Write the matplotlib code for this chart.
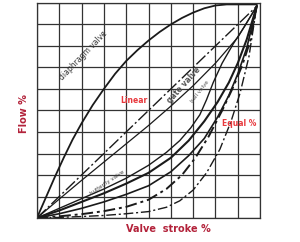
import matplotlib.pyplot as plt

# stroke % vs flow %
diaphragm_x = [0, 4, 8, 12, 16, 20, 25, 30, 35, 40, 45, 50, 55, 60, 65, 70, 75, 80, 85, 98.5]
diaphragm_y = [0, 9.5, 19, 28, 36.5, 44, 52.5, 60, 67, 73, 78, 82.5, 86.5, 90, 93, 95.5, 97.5, 98.8, 99.3, 99.3]
linear_x = [0, 98.5]
linear_y = [0, 98.5]
gate_x = [0, 10, 20, 30, 40, 50, 60, 70, 80, 90, 98.5]
gate_y = [0, 8.8, 17.5, 26, 34.5, 43, 52, 61.5, 72, 84, 98.5]
ball_x = [0, 10, 20, 30, 40, 50, 58, 64, 69, 73, 76, 79, 83, 88, 93, 98.5]
ball_y = [0, 4.5, 9, 13.5, 18.5, 24.5, 30.5, 36, 42, 48, 55, 63, 72, 81, 89, 98.5]
butterfly_x = [0, 10, 20, 30, 40, 50, 60, 68, 75, 81, 86, 90, 94, 98.5]
butterfly_y = [0, 3.5, 7.5, 11.5, 16, 21, 28, 36, 45, 54, 63, 72, 83, 98.5]
third_x = [0, 10, 20, 30, 40, 50, 60, 68, 75, 81, 86, 90, 94, 98.5]
third_y = [0, 2, 4.5, 7.5, 11, 15, 21.5, 29, 37, 47, 57, 67, 79, 98.5]
equal_x = [0, 10, 20, 30, 40, 50, 58, 65, 71, 77, 83, 88, 92, 95.5, 98.5]
equal_y = [0, 0.8, 1.8, 3.2, 5.2, 8.5, 13.5, 20, 28, 38, 50, 61, 71, 82, 98.5]
low_x = [0, 10, 20, 30, 40, 50, 58, 64, 70, 76, 82, 87, 91, 95, 98.5]
low_y = [0, 0.3, 0.7, 1.2, 2, 3, 5, 8, 13, 21, 32, 45, 58, 75, 98.5]

ink = '#1a1a1a'
red = '#e8393d'
dark_red = '#b3223a'

fig = plt.figure(figsize=(3, 2.42), dpi=100)
ax = fig.add_axes([0.123, 0.099, 0.744, 0.889])

for v in range(0, 101, 10):
    ax.axvline(v, color='#333333', lw=0.9, zorder=1)
    ax.axhline(v, color='#333333', lw=0.9, zorder=1)

ax.plot(diaphragm_x, diaphragm_y, color=ink, lw=1.3)
ax.plot(linear_x, linear_y, color=ink, lw=1.0, dashes=(9, 2, 1.5, 2))
ax.plot(gate_x, gate_y, color=ink, lw=0.9)
ax.plot(ball_x, ball_y, color=ink, lw=1.0)
ax.plot(butterfly_x, butterfly_y, color=ink, lw=1.5)
ax.plot(third_x, third_y, color=ink, lw=1.2)
ax.plot(equal_x, equal_y, color=ink, lw=1.4, dashes=(6, 2, 1.5, 2))
ax.plot(low_x, low_y, color=ink, lw=1.0, dashes=(7, 2, 1.5, 2))

ax.set_xlim(0, 100)
ax.set_ylim(0, 100)
ax.set_xticks([])
ax.set_yticks([])
for s in ax.spines.values():
    s.set_color('#333333')
    s.set_linewidth(0.9)

ax.text(20.6, 75.5, 'diaphragm valve', rotation=46, fontsize=5.5, color='#333333',
        ha='center', va='center')
ax.text(66, 62, 'gate valve', rotation=48, fontsize=5.5, color='#555555',
        ha='center', va='center', fontweight='bold')
ax.text(73, 59, 'ball valve', rotation=52, fontsize=4, color='#555555',
        ha='center', va='center')
ax.text(31.5, 16.5, 'butterfly valve', rotation=34, fontsize=4, color='#444444',
        ha='center', va='center')
ax.text(43.5, 54.5, 'Linear', fontsize=5.5, color=red, fontweight='bold',
        ha='center', va='center')
ax.text(90.5, 44, 'Equal %', fontsize=5.5, color=red, fontweight='bold',
        ha='center', va='center', clip_on=False)

fig.text(0.08, 0.53, 'Flow %', rotation=90, fontsize=7, color=dark_red,
         fontweight='bold', ha='center', va='center')
fig.text(0.56, 0.054, 'Valve  stroke %', fontsize=7, color=dark_red,
         fontweight='bold', ha='center', va='center')

fig.savefig('out.png', dpi=100)
